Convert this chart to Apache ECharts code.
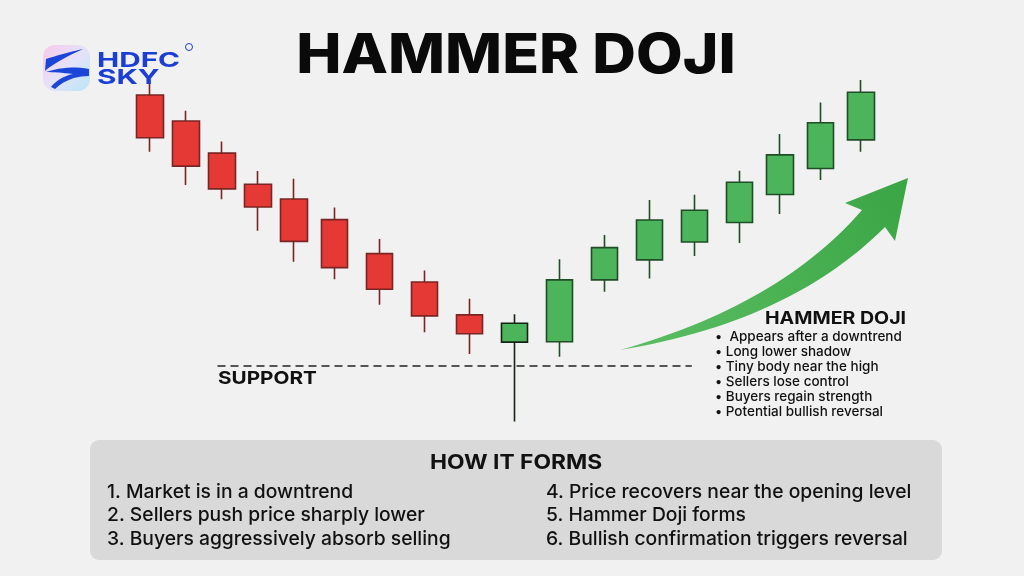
<!DOCTYPE html>
<html><head><meta charset="utf-8">
<script src="https://cdn.jsdelivr.net/npm/echarts@6/dist/echarts.min.js"></script>
<style>html,body{margin:0;padding:0;background:#f1f1f1;}#c{width:1024px;height:576px;}</style>
</head><body><div id="c"></div>
<script>
// ---- data ----
const candleX   = [0, 8, 16, 24, 32, 41, 51, 61, 71, 81, 91, 101, 111, 121, 131, 140, 149, 158];
const openVals  = [95.7, 88.3, 79.1, 70.2, 66.0, 60.1, 50.4, 42.3, 32.9, 25.1, 25.2, 42.9, 48.6, 53.7, 59.3, 67.3, 74.7, 82.9];
const closeVals = [83.5, 75.4, 68.9, 63.7, 53.9, 46.4, 40.2, 32.6, 27.5, 30.5, 42.9, 52.1, 60.0, 62.8, 70.8, 78.6, 87.8, 96.5];
const lowVals   = [79.5, 70.0, 65.9, 56.9, 48.1, 43.1, 35.8, 27.9, 21.7, 2.4, 20.9, 39.5, 43.3, 49.7, 53.4, 61.7, 71.4, 79.5];
const highVals  = [99.4, 91.2, 82.4, 74.0, 71.8, 63.6, 54.6, 45.6, 37.5, 33.1, 48.8, 55.7, 65.7, 67.2, 74.1, 84.6, 93.6, 100.0];
const hammerIndex = 9;
const supportLevel = 18.3;
const supportFrom = 15;
const supportTo = 120.4;

const titleText = 'HAMMER DOJI';
const sideTitle = 'HAMMER DOJI';
const sideBullets = ['Appears after a downtrend', 'Long lower shadow', 'Tiny body near the high', 'Sellers lose control', 'Buyers regain strength', 'Potential bullish reversal'];
const boxTitle = 'HOW IT FORMS';
const stepsLeft = ['1. Market is in a downtrend', '2. Sellers push price sharply lower', '3. Buyers aggressively absorb selling'];
const stepsRight = ['4. Price recovers near the opening level', '5. Hammer Doji forms', '6. Bullish confirmation triggers reversal'];

const candleData = candleX.map((x, i) => {
  const item = { value: [x, openVals[i], closeVals[i], lowVals[i], highVals[i]] };
  if (i === hammerIndex) item.itemStyle = { borderColor: '#142414', color: '#4cb45a' };
  return item;
});

const FONT = 'Inter, "Open Sans", "DejaVu Sans", sans-serif';
const chart = echarts.init(document.getElementById('c'), null, { renderer: 'canvas' });

function txt(text, x, y, size, weight, color, align, sx) {
  return { type: 'text', z: 10, x: x, y: y, scaleX: sx || 1,
    style: { text: text, x: 0, y: 0, fill: color || '#111',
    font: (weight || 'normal') + ' ' + size + 'px ' + FONT,
    align: align || 'left', textAlign: align || 'left', verticalAlign: 'middle', textVerticalAlign: 'middle' } };
}
// sample a quadratic curve into polygon points (shape geometry only)
function quad(p0, c, p1, n) {
  const pts = [];
  for (let k = 0; k <= n; k++) {
    const t = k / n, u = 1 - t;
    pts.push([u * u * p0[0] + 2 * u * t * c[0] + t * t * p1[0], u * u * p0[1] + 2 * u * t * c[1] + t * t * p1[1]]);
  }
  return pts;
}
const arrowPts = [].concat(
  quad([620, 350], [780, 305], [862, 210], 30),
  [[845, 203], [908, 178], [895, 241]],
  quad([885, 227], [790, 322], [620, 350], 30)
);
// logo swoosh pieces (icon-local geometry)
const swooshTop = [].concat(
  quad([40, 4], [22, 8], [3, 14], 10),
  [[2, 26]],
  quad([2, 26], [10, 18], [40, 4], 10)
);
const swooshBottom = [].concat(
  quad([3, 27], [24, 20], [46, 24], 10),
  [[46, 31]],
  quad([46, 31], [26, 31], [12, 44], 10),
  [[8, 42]],
  quad([8, 42], [16, 32], [30, 29], 8),
  quad([30, 29], [14, 27], [3, 27], 8)
);

const graphics = [
  { type: 'rect', z: 1, shape: { x: 90, y: 440, width: 852, height: 120, r: 9 }, style: { fill: '#d9d9d9' } },
  txt(boxTitle, 516, 463, 20, 'bold', '#111', 'center', 1.14),
  txt(titleText, 516, 56, 55, '800', '#0a0a0a', 'center', 1.1),
  txt('SUPPORT', 218, 379, 18, 'bold', '#111', 'left', 1.15),
  txt(sideTitle, 765, 319, 17, 'bold', '#111', 'left', 1.15),
  { type: 'polygon', z: 2, shape: { points: arrowPts },
    style: { fill: { type: 'linear', x: 0, y: 1, x2: 1, y2: 0, colorStops: [{ offset: 0, color: '#5cbf63' }, { offset: 1, color: '#3aa545' }] } } },
  { type: 'group', x: 43, y: 45, z: 10, children: [
    { type: 'rect', shape: { x: 0, y: 0, width: 47, height: 46, r: 12 },
      style: { fill: { type: 'linear', x: 0, y: 0, x2: 1, y2: 1, colorStops: [{ offset: 0, color: '#f6c8ec' }, { offset: 0.5, color: '#e6e2fa' }, { offset: 1, color: '#b9e6f6' }] } } },
    { type: 'polygon', shape: { points: swooshTop }, style: { fill: '#1b45d6' } },
    { type: 'polygon', shape: { points: swooshBottom }, style: { fill: '#1b45d6' } }
  ] },
  txt('HDFC', 97, 61, 20.5, 'bold', '#1b3fd4', 'left', 1.45),
  txt('SKY', 97, 78, 20.5, 'bold', '#1b3fd4', 'left', 1.45),
  { type: 'circle', z: 10, shape: { cx: 189, cy: 47, r: 3.5 }, style: { fill: 'none', stroke: '#1b3fd4', lineWidth: 1 } }
];
sideBullets.forEach((b, i) => {
  graphics.push(txt('\u2022 ' + (i === 0 ? ' ' : '') + b, 715, 337 + i * 15, 13.5, '500', '#111'));
});
stepsLeft.forEach((s, i) => graphics.push(txt(s, 107, 492 + i * 23.5, 19.3, '500', '#111')));
stepsRight.forEach((s, i) => graphics.push(txt(s, 546, 492 + i * 23.5, 19.3, '500', '#111')));

chart.setOption({
  backgroundColor: '#f1f1f1',
  animation: false,
  grid: { left: 105, right: 109, top: 80, bottom: 146 },
  xAxis: { type: 'value', min: -10, max: 170, show: false, splitLine: { show: false } },
  yAxis: { type: 'value', min: 0, max: 100, show: false, splitLine: { show: false } },
  series: [{
    type: 'candlestick',
    barWidth: 27,
    data: candleData,
    itemStyle: { color: '#4cb45a', color0: '#e53935', borderColor: '#1f4d27', borderColor0: '#7a2424', borderWidth: 1.6 },
    markLine: {
      silent: true, symbol: ['none', 'none'], label: { show: false },
      lineStyle: { color: '#222', type: [8, 5], width: 1.5 },
      data: [[{ coord: [supportFrom, supportLevel] }, { coord: [supportTo, supportLevel] }]]
    }
  }],
  graphic: graphics
});
</script></body></html>
